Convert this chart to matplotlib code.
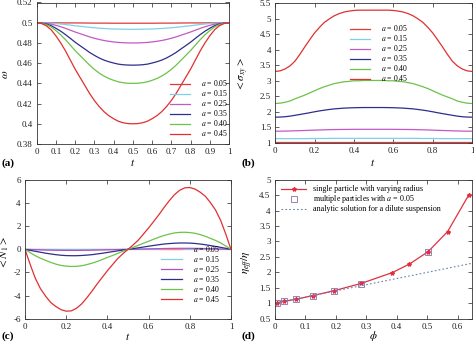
import matplotlib
matplotlib.use("Agg")
import matplotlib.pyplot as plt
from matplotlib.ticker import FuncFormatter

plt.rcParams['font.family'] = ['Liberation Serif', 'DejaVu Serif']
plt.rcParams['mathtext.fontset'] = 'stix'

# ---------------- data ----------------
t21 = [0.0, 0.05, 0.1, 0.15, 0.2, 0.25, 0.3, 0.35, 0.4, 0.45, 0.5,
       0.55, 0.6, 0.65, 0.7, 0.75, 0.8, 0.85, 0.9, 0.95, 1.0]
t41 = [0.0, 0.025, 0.05, 0.075, 0.1, 0.125, 0.15, 0.175, 0.2, 0.225, 0.25,
       0.275, 0.3, 0.325, 0.35, 0.375, 0.4, 0.425, 0.45, 0.475, 0.5,
       0.525, 0.55, 0.575, 0.6, 0.625, 0.65, 0.675, 0.7, 0.725, 0.75,
       0.775, 0.8, 0.825, 0.85, 0.875, 0.9, 0.925, 0.95, 0.975, 1.0]
a_labels = ["0.05", "0.15", "0.25", "0.35", "0.40", "0.45"]
colors = ['#e03a3a', '#7fd0e6', '#c35ac3', '#2e2e8c', '#6cc24a', '#e03030']

# (a) omega vs t
omega_005 = [0.5, 0.5, 0.4999, 0.4998, 0.4998, 0.4997, 0.4996, 0.4996, 0.4995, 0.4995, 0.4995,
             0.4995, 0.4995, 0.4996, 0.4996, 0.4997, 0.4998, 0.4998, 0.4999, 0.5, 0.5]
omega_015 = [0.5, 0.49995, 0.4998, 0.49955, 0.4992, 0.4987, 0.4982, 0.4976, 0.497, 0.4965, 0.496,
             0.49545, 0.495, 0.4946, 0.4943, 0.494, 0.4938, 0.4937, 0.4936, 0.4935, 0.4935,
             0.4935, 0.4936, 0.4937, 0.4938, 0.494, 0.4943, 0.4946, 0.495, 0.49545, 0.496,
             0.4965, 0.497, 0.4976, 0.4982, 0.4987, 0.4992, 0.49955, 0.4998, 0.49995, 0.5]
omega_025 = [0.5, 0.4998, 0.4994, 0.4986, 0.4974, 0.496, 0.4944, 0.4926, 0.4908, 0.4892, 0.4876,
             0.486, 0.4846, 0.4834, 0.4824, 0.4816, 0.481, 0.4805, 0.4802, 0.48, 0.48,
             0.48, 0.4802, 0.4805, 0.481, 0.4816, 0.4824, 0.4834, 0.4846, 0.486, 0.4876,
             0.4892, 0.4908, 0.4926, 0.4944, 0.496, 0.4974, 0.4986, 0.4994, 0.4998, 0.5]
omega_035 = [0.5, 0.4997, 0.4987, 0.4971, 0.4945, 0.4916, 0.4882, 0.4845, 0.4807, 0.4773, 0.474,
             0.4706, 0.4677, 0.4651, 0.463, 0.4614, 0.4601, 0.459, 0.4584, 0.4581, 0.458,
             0.4581, 0.4584, 0.459, 0.4601, 0.4614, 0.463, 0.4651, 0.4677, 0.4706, 0.474,
             0.4773, 0.4807, 0.4845, 0.4882, 0.4916, 0.4945, 0.4971, 0.4987, 0.4997, 0.5]
omega_040 = [0.5, 0.4995, 0.4982, 0.4958, 0.4922, 0.488, 0.4832, 0.4778, 0.4724, 0.4676, 0.4628,
             0.458, 0.4538, 0.4502, 0.4472, 0.4448, 0.443, 0.4415, 0.4406, 0.4401, 0.44,
             0.4401, 0.4406, 0.4415, 0.443, 0.4448, 0.4472, 0.4502, 0.4538, 0.458, 0.4628,
             0.4676, 0.4724, 0.4778, 0.4832, 0.488, 0.4922, 0.4958, 0.4982, 0.4995, 0.5]
omega_045 = [0.5, 0.4992, 0.497, 0.493, 0.487, 0.48, 0.472, 0.463, 0.454, 0.446, 0.438,
             0.43, 0.423, 0.417, 0.412, 0.408, 0.405, 0.4025, 0.401, 0.4002, 0.4,
             0.4002, 0.401, 0.4025, 0.405, 0.408, 0.412, 0.417, 0.423, 0.43, 0.438,
             0.446, 0.454, 0.463, 0.472, 0.48, 0.487, 0.493, 0.497, 0.4992, 0.5]

# (b) <sigma_xy> vs t
sig_005 = [1.02] * 21
sig_015 = [1.14, 1.14, 1.14, 1.14, 1.145, 1.145, 1.15, 1.15, 1.15, 1.15, 1.15,
           1.15, 1.15, 1.15, 1.15, 1.145, 1.145, 1.14, 1.14, 1.14, 1.14]
sig_025 = [1.38, 1.38, 1.383, 1.387, 1.392, 1.397, 1.402, 1.408, 1.414, 1.419, 1.424,
           1.428, 1.432, 1.434, 1.436, 1.438, 1.439, 1.44, 1.44, 1.44, 1.44,
           1.44, 1.44, 1.44, 1.439, 1.438, 1.436, 1.434, 1.432, 1.428, 1.424,
           1.419, 1.414, 1.408, 1.402, 1.397, 1.392, 1.387, 1.383, 1.38, 1.38]
sig_035 = [1.83, 1.834, 1.845, 1.864, 1.89, 1.917, 1.945, 1.973, 2.004, 2.032, 2.056,
           2.078, 2.097, 2.109, 2.121, 2.128, 2.134, 2.137, 2.14, 2.14, 2.14,
           2.14, 2.14, 2.137, 2.134, 2.128, 2.121, 2.109, 2.097, 2.078, 2.056,
           2.032, 2.004, 1.973, 1.945, 1.917, 1.89, 1.864, 1.845, 1.834, 1.83]
sig_040 = [2.27, 2.28, 2.31, 2.35, 2.42, 2.48, 2.54, 2.61, 2.68, 2.75, 2.81,
           2.86, 2.91, 2.94, 2.97, 2.98, 3.0, 3.0, 3.01, 3.01, 3.01,
           3.01, 3.01, 3.0, 3.0, 2.98, 2.97, 2.94, 2.91, 2.86, 2.81,
           2.75, 2.68, 2.61, 2.54, 2.48, 2.42, 2.35, 2.31, 2.28, 2.27]
sig_045 = [3.3, 3.32, 3.38, 3.48, 3.63, 3.85, 4.09, 4.32, 4.54, 4.72, 4.88,
           4.99, 5.09, 5.16, 5.21, 5.24, 5.26, 5.27, 5.27, 5.27, 5.27,
           5.27, 5.27, 5.27, 5.26, 5.24, 5.21, 5.16, 5.09, 4.99, 4.88,
           4.72, 4.54, 4.32, 4.09, 3.85, 3.63, 3.48, 3.38, 3.32, 3.3]

# (c) <N1> vs t
n1_005 = [0.0] * 21
n1_015 = [0, -0.005, -0.01, -0.012, -0.014, -0.014, -0.012, -0.01, -0.007, -0.004, 0,
          0.004, 0.007, 0.01, 0.012, 0.014, 0.014, 0.012, 0.01, 0.005, 0]
n1_025 = [0, -0.03, -0.06, -0.08, -0.09, -0.09, -0.08, -0.06, -0.04, -0.02, 0,
          0.02, 0.04, 0.06, 0.08, 0.09, 0.09, 0.08, 0.06, 0.03, 0]
n1_035 = [0, -0.09, -0.17, -0.25, -0.33, -0.4, -0.46, -0.51, -0.54, -0.55, -0.55,
          -0.53, -0.5, -0.46, -0.4, -0.34, -0.27, -0.2, -0.13, -0.065, 0,
          0.065, 0.13, 0.2, 0.27, 0.34, 0.4, 0.46, 0.5, 0.53, 0.55,
          0.55, 0.54, 0.51, 0.46, 0.4, 0.33, 0.25, 0.17, 0.09, 0]
n1_040 = [0, -0.29, -0.55, -0.77, -0.95, -1.13, -1.28, -1.39, -1.45, -1.48, -1.47,
          -1.42, -1.32, -1.2, -1.05, -0.88, -0.7, -0.53, -0.35, -0.17, 0,
          0.17, 0.35, 0.53, 0.7, 0.88, 1.05, 1.2, 1.32, 1.42, 1.47,
          1.48, 1.45, 1.39, 1.28, 1.13, 0.95, 0.77, 0.55, 0.29, 0]
n1_045 = [0, -1.3, -2.5, -3.4, -4.05, -4.6, -4.95, -5.22, -5.35, -5.32, -5.1,
          -4.72, -4.2, -3.62, -3.0, -2.42, -1.85, -1.32, -0.8, -0.38, 0,
          0.38, 0.8, 1.32, 1.85, 2.42, 3.0, 3.62, 4.2, 4.72, 5.1,
          5.32, 5.35, 5.22, 4.95, 4.6, 4.05, 3.4, 2.5, 1.3, 0]

# (d) effective viscosity vs phi
phi_single = [0.0079, 0.0314, 0.0707, 0.1257, 0.196, 0.283, 0.385, 0.442, 0.503, 0.567, 0.636]
eta_single = [1.02, 1.065, 1.13, 1.25, 1.41, 1.64, 1.99, 2.27, 2.67, 3.32, 4.50]
phi_multi = [0.0079, 0.0314, 0.0707, 0.1257, 0.196, 0.283, 0.503]
eta_multi = [1.02, 1.07, 1.14, 1.25, 1.41, 1.63, 2.67]
phi_analytic = [0.0, 0.65]
eta_analytic = [1.0, 2.30]

# ---------------- figure ----------------
W, H = 474, 346
fig = plt.figure(figsize=(W / 100, H / 100), dpi=100)


def box(l, r, t_, b):
    return [l / W, 1 - b / H, (r - l) / W, (b - t_) / H]


fmt = FuncFormatter(lambda v, p: ('%g' % round(v, 6)))
tick_fs = 6.5


def style(ax):
    ax.tick_params(direction='in', top=True, right=True, labelsize=tick_fs,
                   length=3, width=0.5, pad=3, colors='#222222')
    for s in ax.spines.values():
        s.set_linewidth(0.6)
        s.set_color('#333333')
    ax.xaxis.set_major_formatter(fmt)
    ax.yaxis.set_major_formatter(fmt)


leg_kw = dict(frameon=False, fontsize=5.6, handlelength=2.6, handletextpad=1.4,
              labelspacing=0.0, borderpad=0.1, borderaxespad=0.0)

# (a)
ax = fig.add_axes(box(36.7, 229, 2.5, 144))
series_a = [(t21, omega_005), (t41, omega_015), (t41, omega_025),
            (t41, omega_035), (t41, omega_040), (t41, omega_045)]
for (ts, ys), c, lab in zip(series_a, colors, a_labels):
    ax.plot(ts, ys, color=c, lw=0.9, label=r'$a$ = ' + lab)
ax.set_xlim(0, 1)
ax.set_ylim(0.38, 0.52)
ax.set_xticks([i / 10 for i in range(11)])
ax.set_yticks([0.38, 0.40, 0.42, 0.44, 0.46, 0.48, 0.50, 0.52])
style(ax)
ax.legend(loc='lower right', bbox_to_anchor=(1.0, 0.035), **leg_kw)

# (b)
ax = fig.add_axes(box(275.3, 472, 3, 143))
series_b = [(t21, sig_005), (t21, sig_015), (t41, sig_025),
            (t41, sig_035), (t41, sig_040), (t41, sig_045)]
for (ts, ys), c, lab in zip(series_b, colors, a_labels):
    ax.plot(ts, ys, color=c, lw=0.9, label=r'$a$ = ' + lab)
ax.set_xlim(0, 1)
ax.set_ylim(1, 5.5)
ax.set_xticks([0, 0.2, 0.4, 0.6, 0.8, 1.0])
ax.set_yticks([1, 1.5, 2, 2.5, 3, 3.5, 4, 4.5, 5, 5.5])
style(ax)
ax.legend(loc='upper left', bbox_to_anchor=(0.375, 0.86), **leg_kw)

# (c)
ax = fig.add_axes(box(25, 231, 180, 318.7))
colors_c = ['#f08a8a', '#7fd0e6', '#b050c0', '#2e2e8c', '#6cc24a', '#e03030']
series_c = [(t21, n1_005), (t21, n1_015), (t21, n1_025),
            (t41, n1_035), (t41, n1_040), (t41, n1_045)]
for (ts, ys), c, lab in zip(series_c, colors_c, a_labels):
    ax.plot(ts, ys, color=c, lw=0.9, label=r'$a$ = ' + lab)
ax.set_xlim(0, 1)
ax.set_ylim(-6, 6)
ax.set_xticks([0, 0.2, 0.4, 0.6, 0.8, 1.0])
ax.set_yticks([-6, -4, -2, 0, 2, 4, 6])
style(ax)
ax.legend(loc='lower right', bbox_to_anchor=(0.95, 0.1), **leg_kw)

# (d)
ax = fig.add_axes(box(274.7, 472, 179.7, 318.7))
ax.plot(phi_single, eta_single, color='#e03040', lw=0.9, marker='*', ms=3,
        label='single particle with varying radius')
ax.plot(phi_multi, eta_multi, ls='none', marker='s', ms=4, mfc='none',
        mec='#8a70a8', mew=0.6, label=r'multiple particles with $a$ = 0.05')
ax.plot(phi_analytic, eta_analytic, ls=(0, (1.5, 2)), color='#6a84a8', lw=0.8,
        label='analytic solution for a dilute suspension')
ax.set_xlim(0, 0.647)
ax.set_ylim(0.5, 5)
ax.set_xticks([0, 0.1, 0.2, 0.3, 0.4, 0.5, 0.6])
ax.set_yticks([0.5, 1, 1.5, 2, 2.5, 3, 3.5, 4, 4.5, 5])
style(ax)
ax.legend(loc='upper left', bbox_to_anchor=(0.03, 0.965), frameon=False, fontsize=5.8,
          handlelength=3.0, handletextpad=0.9, labelspacing=0.0, borderpad=0.1,
          borderaxespad=0.0)

# labels (pixel positions)
def ftext(x, y, s, **kw):
    fig.text(x / W, 1 - y / H, s, **kw)

lab_fs = 8
ftext(5, 74, r'$\omega$', fontsize=lab_fs, rotation=90, ha='center', va='center')
ftext(244, 74, r'$<\sigma_{xy}>$', fontsize=lab_fs, rotation=90, ha='center', va='center')
ftext(5, 252, r'$<N_1>$', fontsize=lab_fs, rotation=90, ha='center', va='center')
ftext(247, 262, r'$\eta_{eff}/\eta$', fontsize=lab_fs, rotation=90, ha='center', va='center')

ftext(133, 163, r'$t$', fontsize=lab_fs, ha='center', va='center')
ftext(373, 163, r'$t$', fontsize=lab_fs, ha='center', va='center')
ftext(128, 336, r'$t$', fontsize=lab_fs, ha='center', va='center')
ftext(373, 336, r'$\phi$', fontsize=lab_fs, ha='center', va='center')

ftext(2, 163, '(a)', fontsize=8, fontweight='bold', ha='left', va='center')
ftext(241, 163, '(b)', fontsize=8, fontweight='bold', ha='left', va='center')
ftext(2, 336, '(c)', fontsize=8, fontweight='bold', ha='left', va='center')
ftext(241, 336, '(d)', fontsize=8, fontweight='bold', ha='left', va='center')

fig.savefig('out.png', dpi=100)
